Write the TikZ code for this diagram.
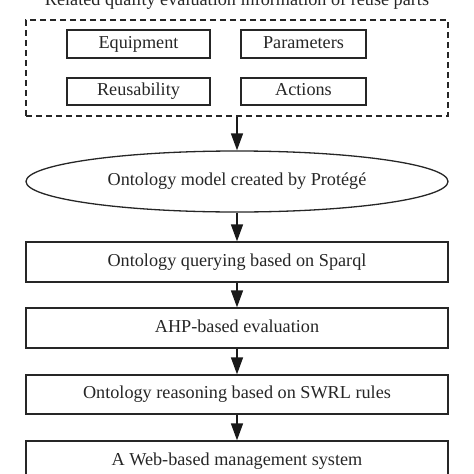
\documentclass[tikz,border=0pt]{standalone}
\usepackage{fontspec}
\setmainfont{Liberation Serif}
\usetikzlibrary{shapes.geometric,arrows.meta}
\begin{document}
\begin{tikzpicture}[x=1pt,y=-1pt,
  every node/.style={font=\fontsize{18.2}{21}\selectfont, text=black!85},
  boxstyle/.style={draw=black!85, line width=1.3pt, rectangle, inner sep=0pt, text height=12.5pt, text depth=4pt},
  ellstyle/.style={draw=black!85, line width=1.3pt, ellipse, inner sep=0pt, text height=12.5pt, text depth=4pt},
  dashbox/.style={draw=black!85, line width=1.3pt, dash pattern=on 6pt off 4pt, rectangle, inner sep=0pt},
  flow/.style={draw=black!90, line width=1.5pt, -{Triangle[width=12pt,length=17pt]}}]
\useasboundingbox (0,0) rectangle (474,474);
\clip (0,0) rectangle (474,474);
\node[anchor=base] (title) at (237,5.5) {Related quality evaluation information of reuse parts};
\node[dashbox, minimum width=422pt, minimum height=96pt] (group) at (237,68) {};
\node[boxstyle, minimum width=143pt, minimum height=28pt] (equip) at (138.5,44) {Equipment};
\node[boxstyle, minimum width=125pt, minimum height=28pt] (param) at (303.5,44) {Parameters};
\node[boxstyle, minimum width=143pt, minimum height=27pt] (reus) at (138.5,91.5) {Reusability};
\node[boxstyle, minimum width=125pt, minimum height=27pt] (act) at (303.5,91.5) {Actions};
\node[ellstyle, minimum width=422pt, minimum height=61pt] (onto) at (237,181.5) {Ontology model created by Protégé};
\node[boxstyle, minimum width=422pt, minimum height=40pt] (query) at (237,262) {Ontology querying based on Sparql};
\node[boxstyle, minimum width=422pt, minimum height=40pt] (ahp) at (237,328) {AHP-based evaluation};
\node[boxstyle, minimum width=422pt, minimum height=39pt] (swrl) at (237,394.5) {Ontology reasoning based on SWRL rules};
\node[boxstyle, minimum width=422pt, minimum height=40pt] (web) at (237,461) {A Web-based management system};
\draw[flow] (group) -- (onto);
\draw[flow] (onto) -- (query);
\draw[flow] (query) -- (ahp);
\draw[flow] (ahp) -- (swrl);
\draw[flow] (swrl) -- (web);
\end{tikzpicture}
\end{document}
